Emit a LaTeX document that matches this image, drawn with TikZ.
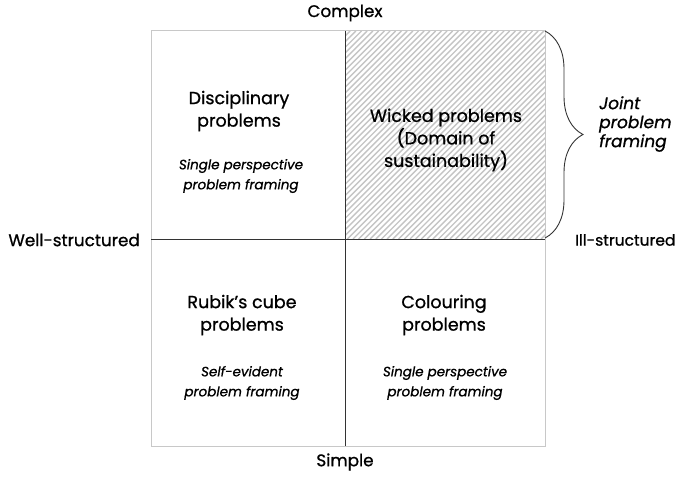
\documentclass[tikz,border=0pt]{standalone}
\usepackage{fontspec}
\setmainfont{Poppins}[FakeBold=0.9]
\usetikzlibrary{decorations.pathreplacing}
\definecolor{hatch}{HTML}{C4C4C4}
\definecolor{frame}{HTML}{C8C8C8}
\definecolor{axis}{HTML}{333333}
\begin{document}
\begin{tikzpicture}[x=1pt,y=-1pt,
  title/.style={font=\fontsize{17.5}{22.5}\selectfont, align=center, text=black, inner sep=0pt},
  sub/.style={font=\fontsize{13.5}{20}\selectfont\itshape, align=center, text=black, inner sep=0pt},
  axlabel/.style={font=\fontsize{16.8}{18}\selectfont, text=black, inner sep=0pt}]
\useasboundingbox (0,0) rectangle (685,481);
% hatching
\begin{scope}
  \clip (345,31) rectangle (545,239);
  \foreach \i in {-220,-214.3,...,410} {
    \draw[hatch, line width=1.4pt] (345+\i,239) -- (345+\i+208,31);
  }
\end{scope}
% frame
\draw[frame, line width=1pt] (151,31) rectangle (545,446);
% axes
\coordinate (L) at (151,239);
\coordinate (R) at (545,239);
\coordinate (T) at (345,31);
\coordinate (B) at (345,446);
\draw[axis, line width=1pt] (L) -- (R);
\draw[axis, line width=1pt] (T) -- (B);
% brace
\coordinate (bt) at (545,31);
\coordinate (bb) at (545,238);
\draw[axis, line width=0.9pt, decorate, decoration={brace, amplitude=38pt, aspect=0.5}] (bt) -- (bb);
% axis labels
\node[axlabel] (complex) at (345,13) {Complex};
\node[axlabel] (simple) at (345,462) {Simple};
\node[axlabel, anchor=east] (well) at (140,240) {Well-structured};
\node[axlabel, font=\fontsize{15.5}{18}\selectfont, anchor=west] (ill) at (575,240) {Ill-structured};
% quadrant texts
\node[title] (disc) at (239,111) {Disciplinary\\problems};
\node[sub] (discs) at (241,176) {Single perspective\\problem framing};
\node[title] (wick) at (446,140) {Wicked problems\\(Domain of\\sustainability)};
\node[title] (rubik) at (242,315) {Rubik’s cube\\problems};
\node[sub] (rubiks) at (242,383) {Self-evident\\problem framing};
\node[title] (colour) at (444,315) {Colouring\\problems};
\node[sub] (colours) at (445,383) {Single perspective\\problem framing};
\node[sub, font=\fontsize{17}{19}\selectfont\itshape, align=left, anchor=west] (joint) at (599,124) {Joint\\problem\\framing};
\end{tikzpicture}
\end{document}
